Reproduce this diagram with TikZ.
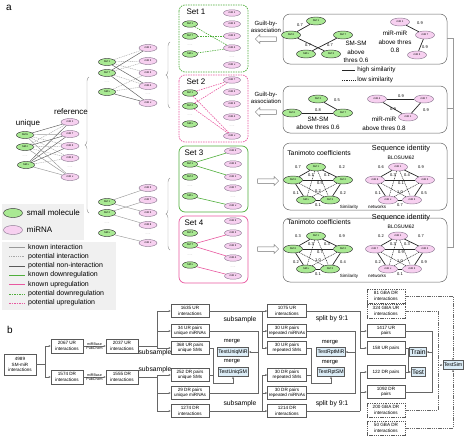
\documentclass[tikz,border=0pt]{standalone}
\usepackage{fontspec}
\setmainfont{Liberation Sans}
\usetikzlibrary{positioning,calc,arrows,arrows.meta,shapes.geometric,shapes.arrows,decorations.pathreplacing}
\newcommand{\fsz}[2]{\fontsize{#1}{#2}\selectfont}
\definecolor{smgreen}{HTML}{A9E993}
\definecolor{mirpink}{HTML}{F7D0F0}
\definecolor{mirline}{HTML}{8C7A92}
\definecolor{dgreen}{HTML}{4FAE3B}
\definecolor{dpink}{HTML}{E8579F}
\definecolor{lblue}{HTML}{DCEDF7}
\tikzset{
  sm/.style={ellipse, draw=black!80, fill=smgreen, line width=0.45pt, minimum width=17pt, minimum height=7pt, inner sep=0pt, font=\fsz{2.6}{3}},
  mir/.style={ellipse, draw=mirline, fill=mirpink, line width=0.45pt, minimum width=18pt, minimum height=7pt, inner sep=0pt, font=\fsz{2.6}{3}},
  setsm/.style={sm, minimum width=15pt, minimum height=6.5pt},
  setmir/.style={mir, minimum width=17pt, minimum height=6.5pt},
  bigsm/.style={sm, minimum width=19pt, minimum height=8pt},
  bigmir/.style={mir, minimum width=19pt, minimum height=8pt},
  dotsn/.style={font=\fsz{3}{3}, text=black!45, inner sep=0pt},
  panel/.style={font=\fsz{10}{11}, inner sep=0pt},
  grouptxt/.style={font=\fsz{8}{9}, inner sep=0pt},
  settxt/.style={font=\fsz{8}{9}, inner sep=0pt},
  legtxt/.style={font=\fsz{7}{8}, inner sep=0pt, anchor=west},
  guilt/.style={font=\fsz{6}{7}, align=center, inner sep=0pt},
  simtxt/.style={font=\fsz{6.3}{8.5}, align=center, inner sep=0pt},
  titletxt/.style={font=\fsz{6.8}{8}, inner sep=0pt},
  wt/.style={font=\fsz{4}{4}, inner sep=0.2pt},
  known/.style={draw=black!40, line width=0.45pt},
  potint/.style={draw=black!35, line width=0.45pt, dash pattern=on 1pt off 0.8pt},
  nonint/.style={draw=black!65, line width=0.45pt},
  kdown/.style={draw=dgreen, line width=0.6pt},
  kup/.style={draw=dpink, line width=0.6pt},
  pdown/.style={draw=dgreen, line width=0.6pt, dash pattern=on 1.5pt off 1pt},
  pup/.style={draw=dpink, line width=0.6pt, dash pattern=on 1.5pt off 1pt},
  brc/.style={draw=black!40, line width=0.45pt, decorate, decoration={brace, amplitude=4pt}},
  simbox/.style={draw=black!60, rounded corners=7pt, line width=0.5pt},
  hi/.style={draw=black!85, line width=0.7pt},
  lo/.style={draw=black!85, line width=0.5pt, dash pattern=on 1pt off 0.8pt},
  hollowarr/.style={single arrow, draw=black!55, fill=white, line width=0.5pt, minimum height=21pt, minimum width=0pt, inner sep=0pt, inner ysep=2pt, single arrow head extend=2.2pt},
  bbox/.style={draw=black!65, fill=white, font=\fsz{4.6}{5.3}, align=center, inner sep=0pt, minimum width=38pt, minimum height=13pt, line width=0.5pt},
  gbabox/.style={bbox, dash pattern=on 1.3pt off 0.9pt},
  tbox/.style={draw=black!65, fill=lblue, font=\fsz{5.2}{6}, inner sep=1pt, minimum height=9pt, line width=0.5pt},
  flow/.style={draw=black!60, line width=0.45pt},
  flowarr/.style={flow, -{Stealth[length=2.2pt,width=2pt]}},
  gline/.style={flow, dash pattern=on 1.3pt off 0.9pt},
  gflow/.style={gline, -{Stealth[length=2.2pt,width=2pt]}},
  steptxt/.style={font=\fsz{6.8}{7}, inner sep=0pt},
  mergetxt/.style={font=\fsz{5.8}{6}, inner sep=0pt},
  dbtxt/.style={font=\fsz{3.6}{4}, inner sep=0.6pt},
}

\begin{document}
\begin{tikzpicture}[x=1pt, y=-1pt]
\useasboundingbox (0,0) rectangle (474,442);

%% ---------- panel a ----------
\node[panel] (pa) at (9,8) {a};

% unique SMs and reference miRNAs
\node[grouptxt] (uniq) at (28,123) {unique};
\node[grouptxt] (refr) at (71,112) {reference};
\node[sm] (u1) at (25,135) {SM b};
\node[sm] (u2) at (25,147) {SM z};
\node[dotsn] (ud) at (25,156) {......};
\node[sm] (u3) at (26,165) {SM x};
\foreach \txt/\y [count=\i] in {miR 1/122, miR 7/134, miR 3/146, miR 4/158, miR x/177}
  \node[mir] (r\i) at (70,\y) {\txt};
\node[dotsn] (rd) at (70,167) {......};
\foreach \p/\q in {u3/r1,u3/r2,u3/r3,u1/r1,u2/r2} \draw[nonint] (\p) -- (\q);
\foreach \p/\q in {u1/r3,u1/r4,u2/r3,u2/r4,u3/r4,u2/r1} \draw[potint] (\p) -- (\q);
\foreach \p/\q in {u1/r5,u2/r5,u3/r5,u1/r2} \draw[known] (\p) -- (\q);
\draw[brc] (89,213) -- (89,77);

% potential pairs (top) and known pairs (bottom)
\foreach \txt/\y [count=\i] in {SM 1/62, SM 7/73, SM x/92} \node[sm] (a\i) at (107,\y) {\txt};
\node[dotsn] (ad) at (107,82) {......};
\foreach \txt/\y [count=\i] in {miR 1/48, miR 2/61, miR 3/73, miR 4/86, miR x/103} \node[mir] (b\i) at (148,\y) {\txt};
\node[dotsn] (bd) at (148,94) {......};
\foreach \p/\q in {a1/b1,a1/b2,a1/b3,a2/b2,a2/b4,a3/b4,a3/b3} \draw[potint] (\p) -- (\q);
\foreach \p/\q in {a2/b1,a1/b4,a2/b5,a3/b5} \draw[nonint] (\p) -- (\q);

\foreach \txt/\y [count=\i] in {SM 1/202, SM 2/213, SM x/233} \node[sm] (c\i) at (107,\y) {\txt};
\node[dotsn] (cd) at (107,223) {......};
\foreach \txt/\y [count=\i] in {miR 3/188, miR 7/200, miR 5/213, miR 8/225, miR x/243} \node[mir] (d\i) at (148,\y) {\txt};
\node[dotsn] (dd) at (148,234) {......};
\foreach \p/\q in {c1/d1,c1/d3,c2/d2,c2/d4,c3/d5} \draw[known] (\p) -- (\q);
\draw[brc] (170,108) -- (170,42);
\draw[brc] (170,250) -- (170,178);

% Set 1
\draw[pdown, rounded corners=6pt, line width=0.7pt] (179,5) rectangle (248,72);
\node[settxt] (set1) at (196,12) {Set 1};
\foreach \txt/\y [count=\i] in {SM 1/24, SM 7/36, SM x/54} \node[setsm] (s1s\i) at (190,\y) {\txt};
\foreach \txt/\y [count=\i] in {miR 1/13, miR 2/24, miR 3/36, miR 4/48, miR x/65} \node[setmir] (s1m\i) at (232,\y) {\txt};
\node[dotsn] (s1sd) at (190,45) {......};
\node[dotsn] (s1md) at (232,57) {......};
\foreach \p/\q in {s1s1/s1m4,s1s2/s1m3,s1s3/s1m4} \draw[pdown] (\p) -- (\q);

% Set 2
\draw[pup, rounded corners=6pt, line width=0.7pt] (179,75) rectangle (248,142);
\node[settxt] (set2) at (196,82) {Set 2};
\foreach \txt/\y [count=\i] in {SM 1/93, SM 2/106, SM x/124} \node[setsm] (s2s\i) at (190,\y) {\txt};
\foreach \txt/\y [count=\i] in {miR 7/80, miR 2/92, miR 3/104, miR 4/117, miR x/136} \node[setmir] (s2m\i) at (232,\y) {\txt};
\node[dotsn] (s2sd) at (190,115) {......};
\node[dotsn] (s2md) at (232,126) {......};
\foreach \p/\q in {s2s1/s2m1,s2s2/s2m1,s2s1/s2m5,s2s2/s2m5} \draw[pup] (\p) -- (\q);

% Set 3
\draw[kdown, rounded corners=6pt, line width=0.7pt] (179,146) rectangle (248,212);
\node[settxt] (set3) at (194,153) {Set 3};
\foreach \txt/\y [count=\i] in {SM 1/164, SM 2/177, SM x/196} \node[setsm] (s3s\i) at (190,\y) {\txt};
\foreach \txt/\y [count=\i] in {miR 3/151, miR 2/164, miR 1/177, miR 7/188, miR x/206} \node[setmir] (s3m\i) at (233,\y) {\txt};
\node[dotsn] (s3sd) at (190,186) {......};
\node[dotsn] (s3md) at (233,197) {......};
\foreach \p/\q in {s3s1/s3m1,s3s1/s3m3,s3s3/s3m5} \draw[kdown] (\p) -- (\q);

% Set 4
\draw[kup, rounded corners=6pt, line width=0.7pt] (179,216) rectangle (248,283);
\node[settxt] (set4) at (194,223) {Set 4};
\foreach \txt/\y [count=\i] in {SM 3/233, SM 7/245, SM x/265} \node[setsm] (s4s\i) at (190,\y) {\txt};
\foreach \txt/\y [count=\i] in {miR 3/221, miR 2/233, miR 3/246, miR 4/258, miR x/276} \node[setmir] (s4m\i) at (233,\y) {\txt};
\node[dotsn] (s4sd) at (190,255) {......};
\node[dotsn] (s4md) at (233,267) {......};
\foreach \p/\q in {s4s2/s4m2,s4s2/s4m4,s4s3/s4m5} \draw[kup] (\p) -- (\q);

% arrows between sets and networks
\node[guilt] (g1txt) at (266,27) {Guilt-by-\\association};
\node[hollowarr, shape border rotate=180] (g1arr) at (267,39) {};
\node[guilt] (g2txt) at (266,98) {Guilt-by-\\association};
\node[hollowarr, shape border rotate=180] (g2arr) at (267,112) {};
\node[hollowarr] (g3arr) at (267,181) {};
\node[hollowarr] (g4arr) at (267,249) {};

% similarity networks
\draw[simbox] (283,14) rectangle (447,64);
\draw[simbox] (283,86) rectangle (447,133);
\draw[simbox] (283,143) rectangle (447,210);
\draw[simbox] (283,218) rectangle (447,282);
\draw[draw=black!40, line width=0.45pt] (447,38) -- (453,38) -- (453,247) -- (447,247);
\draw[draw=black!40, line width=0.45pt] (447,108) -- (453,108);
\draw[draw=black!40, line width=0.45pt] (447,178) -- (453,178);

% box 1
\node[bigsm] (p1) at (316,21) {SM 1};
\node[bigsm] (p2) at (291,35) {SM 6};
\node[bigsm] (p3) at (343,35) {SM 7};
\node[bigsm] (p4) at (306,54) {SM x};
\node[bigsm] (p5) at (331,54) {SM 3};
\foreach \p/\q in {p2/p1,p2/p5,p3/p4} \draw[hi] (\p) -- (\q);
\node[bigmir] (q1) at (400,22) {miR 1};
\node[bigmir] (q2) at (425,35) {miR 7};
\node[bigmir] (q3) at (417,55) {miR 3};
\foreach \p/\q in {q1/q2,q2/q3} \draw[hi] (\p) -- (\q);
\foreach \x/\y/\txt [count=\i] in {300/25/0.7, 308/45/0.7, 330/45/0.7, 420/23/0.9, 425/47/0.9}
  \node[wt] (w1\i) at (\x,\y) {\txt};
\node[simtxt] (b1sm) at (356,52) {SM-SM\\above\\thres 0.6};
\node[simtxt] (b1mir) at (395,42) {miR-miR\\above thres\\0.8};
\draw[hi] (342,70) -- (355,70) node[simtxt, right=2pt] (hitxt) {high similarity};
\draw[lo] (342,80) -- (355,80) node[simtxt, right=2pt] (lotxt) {low similarity};

% box 2
\node[bigsm] (e1) at (318,99) {SM 3};
\node[bigsm] (e2) at (292,113) {SM 6};
\node[bigsm] (e3) at (343,113) {SM 7};
\foreach \p/\q in {e2/e3,e1/e3} \draw[hi] (\p) -- (\q);
\node[bigmir] (f1) at (377,99) {miR 4};
\node[bigmir] (f2) at (424,99) {miR 7};
\node[bigmir] (f3) at (408,117) {miR 1};
\foreach \p/\q in {f1/f2,f1/f3,f2/f3} \draw[hi] (\p) -- (\q);
\foreach \x/\y/\txt [count=\i] in {318/110/0.8, 337/100/0.5, 401/96/0.9, 393/109/0.9, 426/110/0.9}
  \node[wt] (w2\i) at (\x,\y) {\txt};
\node[simtxt] (b2sm) at (318,123.5) {SM-SM\\above thres 0.6};
\node[simtxt] (b2mir) at (384,123.5) {miR-miR\\above thres 0.8};

% boxes 3 and 4
\foreach \bx/\by/\pre/\kind/\lA/\lB/\lC/\lD/\lE in {316/167/ta/bigsm/SM 1/SM 6/SM 2/SM x/SM 3, 398/167/na/bigmir/miR 1/miR 6/miR 2/miR x/miR 3, 316/236/tb/bigsm/SM 1/SM 6/SM 2/SM x/SM 3, 398/236/nb/bigmir/miR 1/miR 7/miR 2/miR x/miR 3} {
  \node[\kind] (\pre1) at (\bx,\by) {\lA};
  \node[\kind] (\pre2) at ({\bx-23},{\by+13}) {\lB};
  \node[\kind] (\pre3) at ({\bx+27},{\by+13}) {\lC};
  \node[\kind] (\pre4) at ({\bx-10},{\by+33}) {\lD};
  \node[\kind] (\pre5) at ({\bx+14},{\by+33}) {\lE};
  \foreach \p/\q in {1/2,1/3,2/3,2/4,3/5,4/5} \draw[hi] (\pre\p) -- (\pre\q);
  \foreach \p/\q in {1/4,1/5,2/5,3/4} \draw[lo] (\pre\p) -- (\pre\q);
}
\foreach \x/\y/\txt [count=\i] in {298/167/0.7, 342/167/0.2, 311/175/0.1, 327/175/0.1, 320/183/0.5, 296/193/0.1, 343/193/0.2, 318/191/0.2, 318/205/0.1,
  381/167/0.6, 421/167/0.9, 393/175/0.3, 407/175/0.4, 401/183/0.1, 378/193/0.1, 424/193/0.5, 400/192/1.0, 400/205/0.7,
  298/236/0.3, 342/236/0.9, 311/244/0.3, 327/244/0.3, 320/252/0.7, 296/262/0.2, 343/262/0.4, 318/260/1.0, 318/274/0.1,
  381/236/0.2, 421/236/0.7, 393/244/0.3, 407/244/0.3, 401/252/0.9, 378/262/0.2, 424/262/0.9, 400/261/1.0, 400/274/0.1}
  \node[wt] (w3\i) at (\x,\y) {\txt};
\foreach \oy [count=\i] in {0,69} {
  \node[titletxt] (tan\i) at (319,{153+\oy}) {Tanimoto coefficients};
  \node[titletxt, font=\fsz{7.3}{8}] (seq\i) at (401,{149+\oy}) {Sequence identity};
  \node[titletxt, font=\fsz{5}{6}] (blo\i) at (401,{157.5+\oy}) {BLOSUM62};
  \node[wt, font=\fsz{4.5}{5}] (simA\i) at (349,{207+\oy}) {Similarity};
  \node[wt, font=\fsz{4.5}{5}] (simB\i) at (377,{207+\oy}) {networks};
}

% legend
\fill[black!6] (2,204) rectangle (84,240);
\node[sm, minimum width=19pt, minimum height=9pt] (legsm) at (13,213) {};
\node[legtxt, font=\fsz{8}{9}, right=4pt of legsm] (legsmt) {small molecule};
\node[mir, minimum width=19pt, minimum height=9pt] (legmir) at (13,230) {};
\node[legtxt, font=\fsz{8}{9}, right=4pt of legmir] (legmirt) {miRNA};
\fill[black!6] (2,242) rectangle (116,310);
\foreach \st/\txt [count=\i] in {known/known interaction, potint/potential interaction, nonint/potential non-interaction, kdown/known downregulation, kup/known upregulation, pdown/potential downregulation, pup/potential upregulation} {
  \draw[\st] (9,{237.7+9.35*\i}) -- (25,{237.7+9.35*\i});
  \node[legtxt] (leg\i) at (28,{237.7+9.35*\i}) {\txt};
}

%% ---------- panel b ----------
\node[panel] (pb) at (10,330) {b};
\node[bbox, minimum width=32pt, minimum height=21pt] (all) at (20,364.5) {4989\\SM-miR\\interactions};
\node[bbox, minimum width=32pt, minimum height=14pt] (ur2067) at (67,346) {2067 UR\\interactions};
\node[bbox, minimum width=32pt, minimum height=14pt] (dr1574) at (67,377) {1574 DR\\interactions};
\node[bbox, minimum width=32pt, minimum height=14pt] (ur2037) at (122,346) {2037 UR\\interactions};
\node[bbox, minimum width=32pt, minimum height=14pt] (dr1555) at (122,377) {1555 DR\\interactions};
\foreach \nm/\y/\txt in {ur1635/311/{1635 UR\\interactions}, ur34/331/{34 UR pairs\\unique miRNAs}, ur368/348/{368 UR pairs\\unique SMs}, dr252/375/{252 DR pairs\\unique SMs}, dr29/393/{29 DR pairs\\unique miRNAs}, dr1274/411/{1274 DR\\interactions}}
  \node[bbox] (\nm) at (190,\y) {\txt};
\foreach \nm/\y/\txt in {ur1075/311/{1075 UR\\interactions}, ur30m/331/{30 UR pairs\\repeated miRNAs}, ur30s/348/{30 UR pairs\\repeated SMs}, dr30s/375/{30 DR pairs\\repeated SMs}, dr30m/393/{30 DR pairs\\repeated miRNAs}, dr1214/411/{1214 DR\\interactions}}
  \node[bbox, minimum width=39pt] (\nm) at (287,\y) {\txt};
\foreach \nm/\y/\txt in {ur1417/331/{1417 UR\\pairs}, ur158/348/{158 UR pairs}, dr122/372/{122 DR pairs}, dr1092/392/{1092 DR\\pairs}}
  \node[bbox] (\nm) at (386,\y) {\txt};
\foreach \nm/\y/\txt in {gba81/296/{81 GBA DR\\interactions}, gba324/311/{324 GBA UR\\interactions}, gba200/410/{200 GBA DR\\interactions}, gba50/428/{50 GBA DR\\interactions}}
  \node[gbabox, minimum height=14pt] (\nm) at (386,\y) {\txt};
\node[tbox] (tumir) at (233,352) {TestUniqMiR};
\node[tbox] (tusm) at (233,372) {TestUniqSM};
\node[tbox] (trmir) at (331,352) {TestRptMiR};
\node[tbox] (trsm) at (331,372) {TestRptSM};
\node[tbox, font=\fsz{6.8}{7}] (train) at (418,352) {Train};
\node[tbox, font=\fsz{6.5}{7}] (test) at (418,372) {Test};
\node[tbox] (tsim) at (453,365) {TestSim};

\coordinate (j1) at (45,364.5);
\coordinate (j2) at (157,346);
\coordinate (j3) at (157,377);
\coordinate (j4) at (262,311);
\coordinate (j5) at (262,411);
\coordinate (j6) at (360,311);
\coordinate (j7) at (360,411);
\coordinate (k1) at (258,352);
\coordinate (k2) at (213,383);
\coordinate (k3) at (355,352);
\coordinate (k4) at (311,383);
\coordinate (k5) at (432,352);
\coordinate (k6) at (408,372);
\coordinate (k7) at (438,365);

\draw[flow] (all.east) -- (j1);
\draw[flowarr] (j1) |- (ur2067.west);
\draw[flowarr] (j1) |- (dr1574.west);
\draw[flowarr] (ur2067) -- (ur2037) node[dbtxt, midway, above] (db1) {miRBase} node[dbtxt, midway, below] (pc1) {PubChem};
\draw[flowarr] (dr1574) -- (dr1555) node[dbtxt, midway, above] (db2) {miRBase} node[dbtxt, midway, below] (pc2) {PubChem};
\draw[flow] (ur2037.east) -- (j2);
\foreach \nm in {ur1635,ur34,ur368} \draw[flowarr] (j2) |- (\nm.west);
\draw[flow] (dr1555.east) -- (j3);
\foreach \nm in {dr252,dr29,dr1274} \draw[flowarr] (j3) |- (\nm.west);
\node[steptxt] (sub1) at (155,353) {subsample};
\node[steptxt] (sub2) at (155,370) {subsample};

\draw[flow] (ur1635.east) -- (j4);
\foreach \nm in {ur1075,ur30m,ur30s} \draw[flowarr] (j4) |- (\nm.west);
\draw[flow] (dr1274.east) -- (j5);
\foreach \nm in {dr1214,dr30m,dr30s} \draw[flowarr] (j5) |- (\nm.west);
\node[steptxt] (sub3) at (240,320) {subsample};
\node[steptxt] (sub4) at (240,404) {subsample};

% merges of unique pairs
\draw[flow] (ur34.east) -| (k1);
\draw[flow] (dr29.east) -| (k1);
\draw[flowarr] (k1) -- (tumir.east);
\draw[flow] (ur368.east) -| (k2);
\draw[flow] (dr252.east) -- (dr252.east -| k2);
\draw[flowarr] (k2) -| (tusm.south);
\node[mergetxt] (mg1) at (232,342) {merge};
\node[mergetxt] (mg2) at (232,362) {merge};

% merges of repeated pairs
\draw[flow] (ur30m.east) -| (k3);
\draw[flow] (dr30m.east) -| (k3);
\draw[flowarr] (k3) -- (trmir.east);
\draw[flow] (ur30s.east) -| (k4);
\draw[flow] (dr30s.east) -- (dr30s.east -| k4);
\draw[flowarr] (k4) -| (trsm.south);
\node[mergetxt] (mg3) at (330,343) {merge};
\node[mergetxt] (mg4) at (330,363) {merge};

% split 9:1
\draw[flow] (ur1075.east) -- (j6);
\foreach \nm in {ur1417,ur158} \draw[flowarr] (j6) |- (\nm.west);
\draw[flow] (dr1214.east) -- (j7);
\foreach \nm in {dr122,dr1092} \draw[flowarr] (j7) |- (\nm.west);
\node[steptxt] (sp1) at (332,319) {split by 9:1};
\node[steptxt] (sp2) at (332,404) {split by 9:1};

\draw[flow] (ur1417.east) -| (k5);
\draw[flow] (dr1092.east) -| (k5);
\draw[flowarr] (k5) -- (train.east);
\draw[flow] (ur158.east) -| (k6);
\draw[flowarr] (dr122.east) -- (test.west);

% GBA test set
\draw[gflow] (gba81.east) -| (tsim.north);
\draw[gflow] (gba50.east) -| (tsim.south);
\draw[gline] (gba324.east) -| (k7);
\draw[gline] (gba200.east) -| (k7);
\draw[gflow] (k7) -- (tsim.west);
\end{tikzpicture}
\end{document}
